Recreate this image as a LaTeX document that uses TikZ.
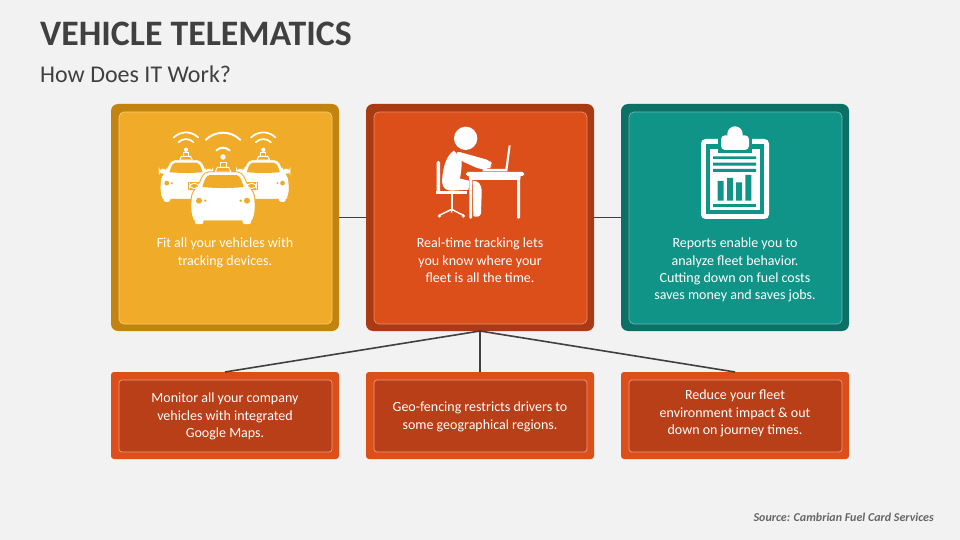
\documentclass[tikz,border=0pt]{standalone}
\usepackage{fontspec}
\setmainfont{Carlito}
\definecolor{bgc}{HTML}{F2F2F2}
\definecolor{titlec}{HTML}{404040}
\definecolor{amber}{HTML}{F0AC29}
\definecolor{amberd}{HTML}{C2840F}
\definecolor{rust}{HTML}{DC4F1B}
\definecolor{rustd}{HTML}{A83A14}
\definecolor{rustm}{HTML}{B83F17}
\definecolor{teal1}{HTML}{119488}
\definecolor{teald}{HTML}{0D7066}
\tikzset{
 cardouter/.style={draw=none,rounded corners=7pt,minimum width=228pt,minimum height=227pt,inner sep=0pt,outer sep=0pt},
 cardinner/.style={rounded corners=5pt,minimum width=213pt,minimum height=212pt,inner sep=0pt,line width=.7pt},
 smallouter/.style={rounded corners=3pt,minimum width=228pt,minimum height=87pt,inner sep=0pt,outer sep=0pt,fill=rust},
 smallinner/.style={rounded corners=3pt,minimum width=213pt,minimum height=72pt,inner sep=0pt,fill=rustm,draw=white!45!rust,line width=.7pt},
 bodytext/.style={text=white,align=center,anchor=north,inner sep=0pt,font=\fontsize{14}{17.3}\selectfont},
 link/.style={draw=titlec,line width=1.6pt},
 ink/.style={fill=white,draw=none},
}
% #1 inner radius, #2 outer radius, #3 line width
\newcommand{\wifisign}[3]{%
 \fill[white] (0,0) circle (8);
 \foreach \r in {#1,#2}{\draw[white,line width=#3,line cap=round] ({-\r*0.707},{-\r*0.707}) arc[start angle=-135,end angle=-45,radius=\r];}
}
% #1 mirror fill
\newcommand{\carshape}[1]{%
 \draw[white,line width=.9pt,fill=amber] (-9,-31) rectangle (9,-16);
 \draw[white,line width=.9pt,fill=amber] (-24,-2) -- (-17,-16) -- (17,-16) -- (24,-2) -- cycle;
 \draw[white,line width=.9pt,fill=#1,rounded corners=4pt] (-100,32) rectangle (-72,47);
 \draw[white,line width=.9pt,fill=#1,rounded corners=4pt] (72,32) rectangle (100,47);
 \fill[white,rounded corners=2pt] (-84,135) rectangle (-59,154);
 \fill[white,rounded corners=2pt] (59,135) rectangle (84,154);
 \path[fill=white,draw=white,line width=.5pt] (-42,0) -- (42,0) .. controls (58,2) and (62,14) .. (72,40)
   .. controls (84,52) and (92,60) .. (93,80) .. controls (95,105) and (95,125) .. (86,142)
   -- (-86,142) .. controls (-95,125) and (-95,105) .. (-93,80) .. controls (-92,60) and (-84,52) .. (-72,40)
   .. controls (-62,14) and (-58,2) .. (-42,0) -- cycle;
 \fill[amber] (-40,7) .. controls (0,4) .. (40,7) .. controls (50,9) and (54,16) .. (62,43)
   .. controls (20,47) and (-20,47) .. (-62,43) .. controls (-54,16) and (-50,9) .. (-40,7) -- cycle;
 \fill[amber] (-72,84) circle (9) (-53,84) circle (4) (72,84) circle (9) (53,84) circle (4);
}
\begin{document}
\begin{tikzpicture}[x=1pt,y=-1pt]
\useasboundingbox (0,0) rectangle (960,540);
\fill[bgc] (0,0) rectangle (960,540);
\node[anchor=west,inner sep=0pt,text=titlec,font=\fontsize{35.8}{40}\selectfont\bfseries] (ttl) at (40,34) {VEHICLE TELEMATICS};
\node[anchor=west,inner sep=0pt,text=titlec,font=\fontsize{24}{28}\selectfont] (sub) at (40,74) {How Does IT Work?};

\node[cardouter,fill=amberd] (c1) at (225,217.5) {};
\node[cardouter,fill=rustd] (c2) at (480,217.5) {};
\node[cardouter,fill=teald] (c3) at (735,217.5) {};
\node[cardinner,fill=amber,draw=white!35!amber] (c1i) at (225.5,218) {};
\node[cardinner,fill=rust,draw=white!35!rust] (c2i) at (480.5,218) {};
\node[cardinner,fill=teal1,draw=white!35!teal1] (c3i) at (735.5,218) {};

\node[smallouter] (s1) at (225,415.5) {};
\node[smallouter] (s2) at (480,415.5) {};
\node[smallouter] (s3) at (735,415.5) {};
\node[smallinner] (s1i) at (225.5,416) {};
\node[smallinner] (s2i) at (480.5,416) {};
\node[smallinner] (s3i) at (735.5,416) {};

\draw[link] (c1.east |- c1.center) -- (c2.west |- c1.center);
\draw[link] (c2.east |- c2.center) -- (c3.west |- c2.center);
\draw[link] (c2.south) -- (s1.north);
\draw[link] (c2.south) -- (s2.north);
\draw[link] (c2.south) -- (s3.north);

\node[bodytext] (t1) at (225,238) {Fit all your vehicles with\\tracking devices.};
\node[bodytext] (t2) at (480,238) {Real-time tracking lets\\you know where your\\fleet is all the time.};
\node[bodytext] (t3) at (735,238) {Reports enable you to\\analyze fleet behavior.\\Cutting down on fuel costs\\saves money and saves jobs.};
\node[bodytext] (t4) at (225,393) {Monitor all your company\\vehicles with integrated\\Google Maps.};
\node[bodytext] (t5) at (480,402) {Geo-fencing restricts drivers to\\some geographical regions.};
\node[bodytext] (t6) at (735,390) {Reduce your fleet\\environment impact \& out\\down on journey times.};
\node[anchor=east,inner sep=0pt,text=black!60,font=\fontsize{12}{14}\selectfont\bfseries\itshape] (src) at (934,517) {Source: Cambrian Fuel Card Services};

\begin{scope}[shift={(186,160.7)},scale=0.2667]
 \carshape{white}
 \begin{scope}[shift={(0,-41)}]\wifisign{40}{65}{1.7pt}\end{scope}
\end{scope}
\begin{scope}[shift={(263.3,160.7)},scale=0.2667]
 \carshape{white}
 \begin{scope}[shift={(0,-41)}]\wifisign{40}{65}{1.7pt}\end{scope}
\end{scope}
\begin{scope}[shift={(223,172.7)},scale=0.3333]
 \path[draw=amber,line width=2.6pt] (-42,0) -- (42,0) .. controls (58,2) and (62,14) .. (72,40)
   .. controls (84,52) and (92,60) .. (93,80) -- (93,142) -- (-93,142) -- (-93,80)
   .. controls (-92,60) and (-84,52) .. (-72,40) .. controls (-62,14) and (-58,2) .. (-42,0) -- cycle;
 \fill[amber] (-104,28) rectangle (104,51);
 \carshape{amber}
 \begin{scope}[shift={(0,-47)}]\wifisign{28}{73}{2pt}\end{scope}
\end{scope}

\begin{scope}[shift={(400,110)},scale=1/3]
 \fill[white] (197,85) circle (35);
 \fill[ink,rounded corners=1.5pt] (110,153) rectangle (120,247);
 \fill[ink] (108,243) rectangle (200,251);
 \fill[ink] (152,250) rectangle (158,300);
 \draw[white,line width=1.4pt] (155,298) -- (118,316) (155,298) -- (190,316) (155,298) -- (155,308);
 \fill[white] (118,318) circle (5.5) (190,318) circle (5.5);
 \fill[ink] (162,122) .. controls (140,135) and (128,170) .. (126,215)
   .. controls (127,232) and (138,243) .. (155,242) -- (206,239) -- (207,212) -- (180,206)
   .. controls (183,185) and (186,170) .. (185,150) -- (162,122) -- cycle;
 \fill[ink,rounded corners=5pt] (164,122) -- (272,152) -- (277,166) -- (266,178) -- (240,178) -- (178,150) -- cycle;
 \fill[ink] (218,212) .. controls (238,212) and (246,225) .. (245,250) -- (243,310)
   .. controls (242,320) and (228,323) .. (220,318) -- cycle;
 \fill[ink,rounded corners=1.5pt] (198,186) rectangle (372,198);
 \fill[ink] (206,198) -- (362,198) -- (360,210) -- (208,210) -- cycle;
 \fill[ink,rounded corners=1pt] (208,198) rectangle (216,326);
 \fill[ink,rounded corners=1pt] (351,198) rectangle (360,326);
 \fill[ink] (248,177) -- (316,177) -- (326,106) -- (332,106) -- (322,184) -- (248,184) -- cycle;
\end{scope}

\begin{scope}[shift={(670,110)},scale=1/3]
 \fill[ink,rounded corners=4.5pt] (93,87) rectangle (297,327);
 \fill[teal1] (108,103) rectangle (282,313);
 \fill[ink] (120,118) rectangle (270,300);
 \fill[teal1] (143,80) rectangle (247,130);
 \fill[ink] (120,130) rectangle (270,136);
 \fill[ink,rounded corners=4pt] (153,76) rectangle (237,120);
 \fill[white] (195,72) circle (23);
 \fill[teal1] (129,139) rectangle (258,147) (129,158) rectangle (258,167) (129,177) rectangle (258,186);
 \fill[teal1] (143,213) rectangle (161,272) (171,204) rectangle (189,272) (198,217) rectangle (216,272) (226,195) rectangle (244,272);
 \fill[teal1] (129,282) rectangle (258,290);
\end{scope}
\end{tikzpicture}
\end{document}
